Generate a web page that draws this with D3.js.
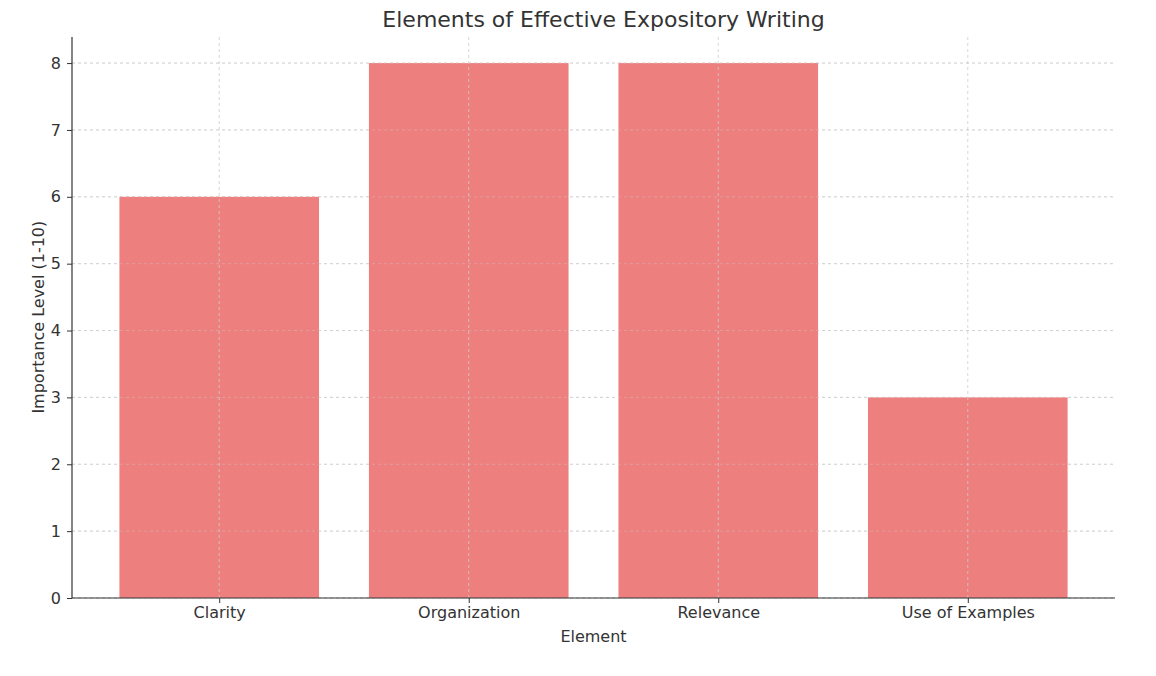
<!DOCTYPE html>
<html><head><meta charset="utf-8">
<script src="https://cdn.jsdelivr.net/npm/d3@7"></script>
<style>body{margin:0;background:#fff;font-family:"DejaVu Sans",sans-serif;}</style>
</head><body>
<svg id="chart" width="1156" height="676"></svg>
<script>
var categories = ["Clarity", "Organization", "Relevance", "Use of Examples"];
var values = [6, 8, 8, 3];
var yTicks = [0, 1, 2, 3, 4, 5, 6, 7, 8];

(function() {
var svg = d3.select("#chart");
var plotLeft = 72, plotRight = 1115, plotTop = 37, plotBottom = 598;
var textColor = "#333";

var x = d3.scaleLinear().domain([-0.59, 3.59]).range([plotLeft, plotRight]);
var y = d3.scaleLinear().domain([0, 8.39]).range([plotBottom, plotTop]);
var barW = x(0.8) - x(0);

// grid
svg.append("g").selectAll("line").data(yTicks).enter().append("line")
  .attr("x1", plotLeft).attr("x2", plotRight)
  .attr("y1", function(d) { return y(d); }).attr("y2", function(d) { return y(d); })
  .attr("stroke", "#ccc").attr("stroke-dasharray", "3,3").attr("stroke-width", 0.8);

// bars
svg.append("g").selectAll("rect").data(values).enter().append("rect")
  .attr("x", function(d, i) { return x(i) - barW / 2; })
  .attr("width", barW)
  .attr("y", function(d) { return y(d); })
  .attr("height", function(d) { return y(0) - y(d); })
  .attr("fill", "#ee7f7f");

// vertical grid drawn over bars (matplotlib style)
svg.append("g").selectAll("line").data(categories).enter().append("line")
  .attr("x1", function(d, i) { return x(i); }).attr("x2", function(d, i) { return x(i); })
  .attr("y1", plotTop).attr("y2", plotBottom)
  .attr("stroke", "#ccc").attr("stroke-dasharray", "3,3").attr("stroke-width", 0.8);

// horizontal grid over bars too
svg.append("g").selectAll("line").data(yTicks).enter().append("line")
  .attr("x1", plotLeft).attr("x2", plotRight)
  .attr("y1", function(d) { return y(d); }).attr("y2", function(d) { return y(d); })
  .attr("stroke", "#ccc").attr("stroke-opacity", 0.5).attr("stroke-dasharray", "3,3").attr("stroke-width", 0.8);

// axes
var yAxis = d3.axisLeft(y).tickValues(yTicks).tickSize(5).tickPadding(6);
var gy = svg.append("g").attr("transform", "translate(" + plotLeft + ",0)").call(yAxis);
var xAxis = d3.axisBottom(x).tickValues(d3.range(categories.length))
  .tickFormat(function(i) { return categories[i]; }).tickSize(5).tickPadding(4);
var gx = svg.append("g").attr("transform", "translate(0," + plotBottom + ")").call(xAxis);
[gx, gy].forEach(function(g) {
  g.select(".domain").attr("stroke", "#333").attr("stroke-width", 1.2);
  g.selectAll(".tick line").attr("stroke", "#333");
  g.selectAll("text").attr("fill", textColor).style("font-size", "16px").style("font-family", "DejaVu Sans");
});
gx.select(".domain").attr("d", "M" + plotLeft + ",0H" + plotRight);
gy.select(".domain").attr("d", "M0," + plotTop + "V" + plotBottom);

svg.append("text").attr("x", (plotLeft + plotRight) / 2 + 10).attr("y", 27).attr("text-anchor", "middle")
  .attr("fill", textColor).style("font-size", "22px").text("Elements of Effective Expository Writing");
svg.append("text").attr("x", x(1.5)).attr("y", 642).attr("text-anchor", "middle")
  .attr("fill", textColor).style("font-size", "16px").text("Element");
svg.append("text").attr("transform", "translate(44," + y(4.2) + ") rotate(-90)").attr("text-anchor", "middle")
  .attr("fill", textColor).style("font-size", "16px").text("Importance Level (1-10)");
})();
</script>
</body></html>
